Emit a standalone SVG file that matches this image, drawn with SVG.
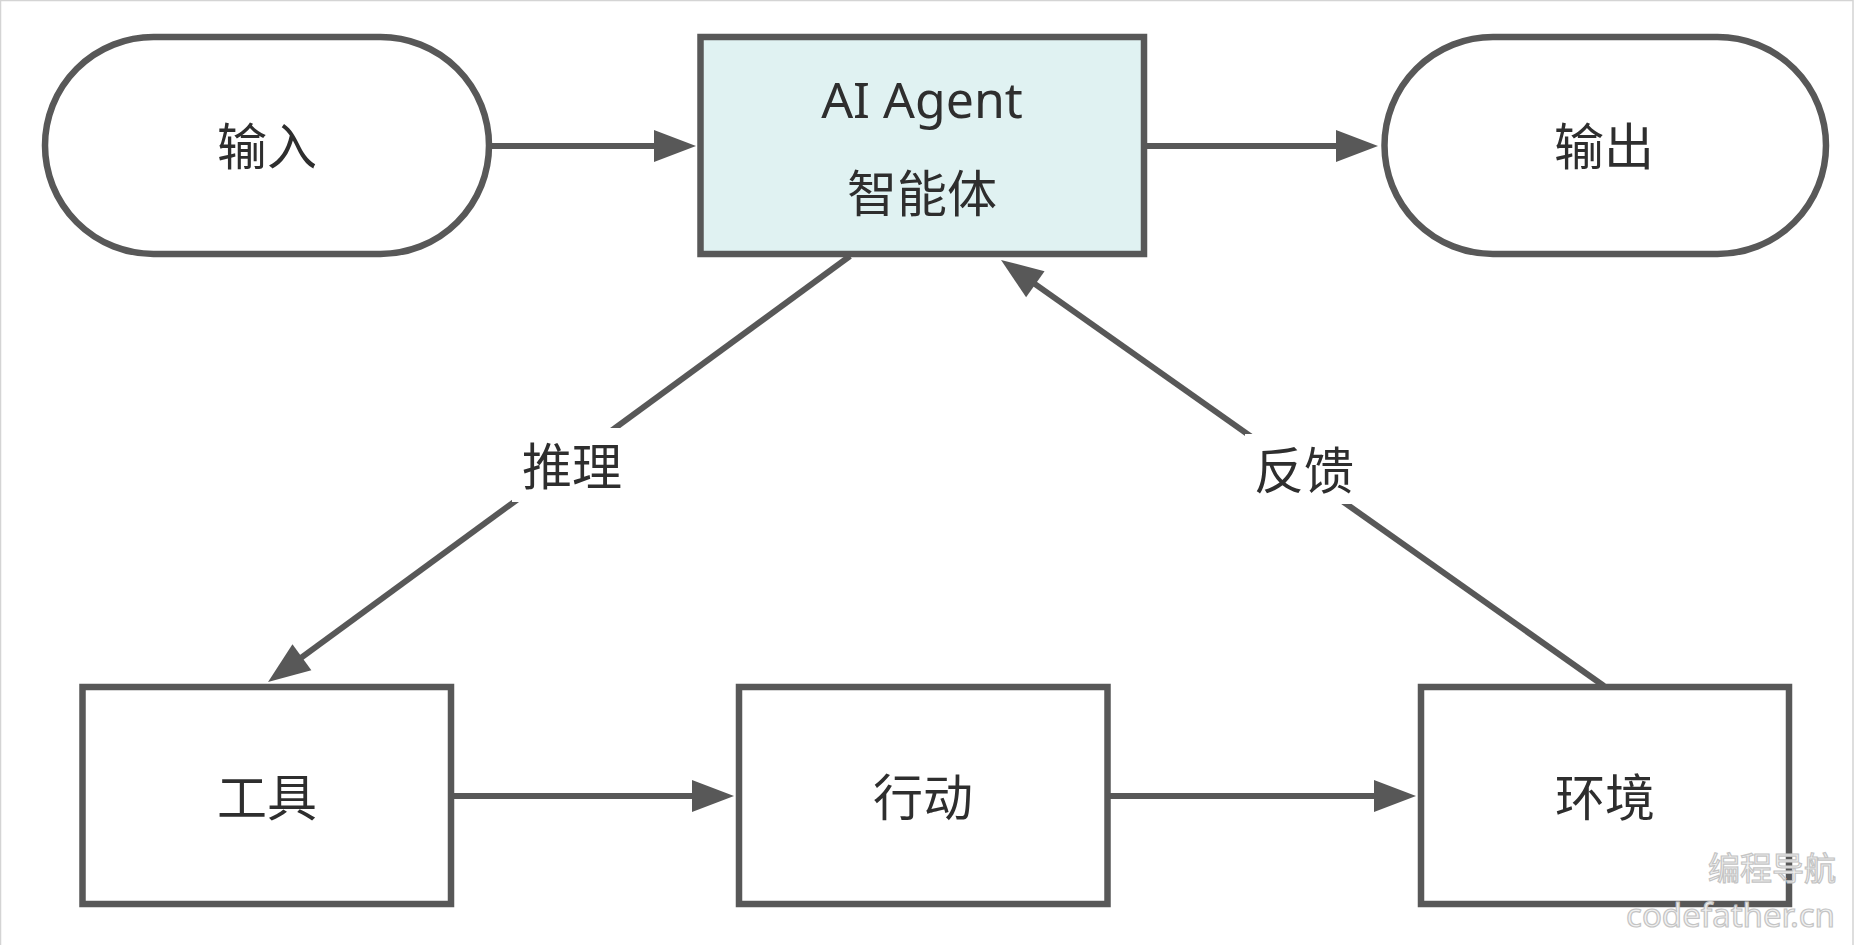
<svg xmlns="http://www.w3.org/2000/svg" width="1857" height="945" viewBox="0 0 1857 945">
<style>
.node{fill:#ffffff;stroke:#585858;stroke-width:6.5}
.agent{fill:#e0f2f2}
.edge{stroke:#585858;stroke-width:6;fill:none}
.lbl{font-family:"Noto Sans CJK SC","Noto Sans",sans-serif;font-size:50px;fill:#2e2e2e;text-anchor:middle;dominant-baseline:central}
.lat{font-family:"Noto Sans","Liberation Sans",sans-serif;font-size:50px;fill:#2e2e2e;text-anchor:middle}
.wm{fill:#f2f2f2;stroke:#c4c4c4;stroke-width:1.2;text-anchor:end}
.wmc{font-family:"Noto Sans CJK SC",sans-serif;font-size:32px}
.wml{font-family:"Noto Sans","Liberation Sans",sans-serif;font-size:33px}
</style>
<defs>
<marker id="arr" markerUnits="userSpaceOnUse" markerWidth="46" markerHeight="36" viewBox="-2 -18 46 36" refX="2" refY="0" orient="auto">
<path d="M0,-16 L42,0 L0,16 z" fill="#585858"/>
</marker>
</defs>
<rect x="0" y="0" width="1857" height="945" fill="#ffffff"/>
<path d="M0.5,945 L0.5,0.5 L1853,0.5 L1853,945" fill="none" stroke="#d4d4d4" stroke-width="1.5"/>
<g id="connectors">
<line class="edge" x1="489" y1="146" x2="656" y2="146" marker-end="url(#arr)"/>
<line class="edge" x1="1147" y1="146" x2="1338" y2="146" marker-end="url(#arr)"/>
<line class="edge" x1="452" y1="796" x2="694" y2="796" marker-end="url(#arr)"/>
<line class="edge" x1="1108" y1="796" x2="1376" y2="796" marker-end="url(#arr)"/>
<line class="edge" x1="850" y1="256" x2="300.3" y2="658.4" marker-end="url(#arr)"/>
<line class="edge" x1="1604" y1="686" x2="1033.7" y2="283.1" marker-end="url(#arr)"/>
<g id="label-reason">
<rect x="512" y="428" width="120" height="74" fill="#ffffff"/>
<text class="lbl" x="572" y="463">推理</text>
</g>
<g id="label-feedback">
<rect x="1245" y="434" width="114" height="70" fill="#ffffff"/>
<text class="lbl" x="1304" y="467">反馈</text>
</g>
</g>
<g id="node-input">
<rect class="node" x="45" y="37" width="444" height="217" rx="108.5" ry="108.5"/>
<text class="lbl" x="267" y="143">输入</text>
</g>
<g id="node-agent">
<rect class="node agent" x="700.5" y="37" width="443.5" height="217"/>
<text class="lat" x="922" y="118">AI Agent</text>
<text class="lbl" x="922" y="190">智能体</text>
</g>
<g id="node-output">
<rect class="node" x="1384.5" y="37" width="441.5" height="217" rx="108.5" ry="108.5"/>
<text class="lbl" x="1604" y="143">输出</text>
</g>
<g id="node-tool">
<rect class="node" x="82.5" y="687" width="368.5" height="217"/>
<text class="lbl" x="267" y="794">工具</text>
</g>
<g id="node-action">
<rect class="node" x="739" y="687" width="368.5" height="217"/>
<text class="lbl" x="923" y="794">行动</text>
</g>
<g id="node-env">
<rect class="node" x="1421" y="687" width="368" height="217"/>
<text class="lbl" x="1605" y="794">环境</text>
</g>
<g id="watermark">
<text class="wm wmc" x="1836" y="880">编程导航</text>
<text class="wm wml" x="1835" y="927">codefather.cn</text>
</g>
</svg>
